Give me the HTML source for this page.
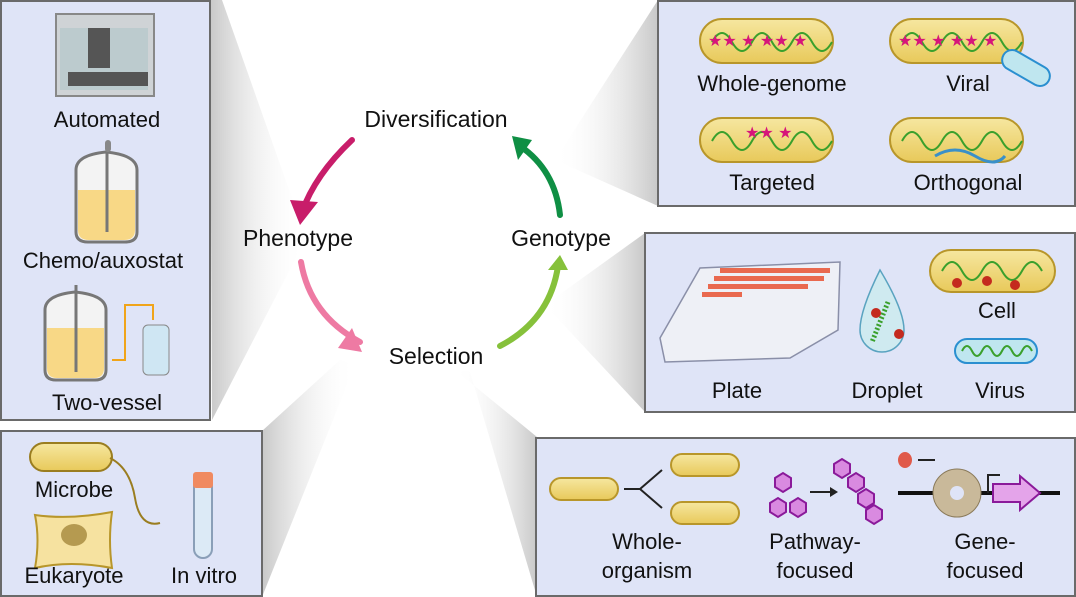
<!DOCTYPE html>
<html><head><meta charset="utf-8"><style>
body{margin:0;background:#fff}
svg{display:block}
text{font-family:"Liberation Sans",sans-serif;fill:#111}
</style></head><body>
<svg width="1076" height="597" viewBox="0 0 1076 597" xmlns="http://www.w3.org/2000/svg">
<defs>
<linearGradient id="gl" x1="0" x2="1"><stop offset="0" stop-color="#c8c8c8"/><stop offset="1" stop-color="#fff" stop-opacity="0"/></linearGradient>
<linearGradient id="gr" x1="1" x2="0"><stop offset="0" stop-color="#c8c8c8"/><stop offset="1" stop-color="#fff" stop-opacity="0"/></linearGradient>
<linearGradient id="cell" x1="0" y1="0" x2="0" y2="1"><stop offset="0" stop-color="#f6e7a0"/><stop offset="1" stop-color="#e8c95a"/></linearGradient>
</defs>
<polygon points="210,0 222,0 305,235 300,250 212,420" fill="url(#gl)"/>
<polygon points="658,0 658,206 555,160" fill="url(#gr)"/>
<polygon points="645,233 645,412 545,305" fill="url(#gr)"/>
<polygon points="262,431 262,597 355,365 340,360" fill="url(#gl)"/>
<polygon points="455,370 537,437 537,597 470,372" fill="url(#gr)"/>

<g fill="#dfe4f7" stroke="#6a6a6a" stroke-width="2">
<rect x="1" y="1" width="209" height="419"/>
<rect x="658" y="1" width="417" height="205"/>
<rect x="645" y="233" width="430" height="179"/>
<rect x="1" y="431" width="261" height="165"/>
<rect x="536" y="438" width="539" height="158"/>
</g>

<g fill="none" stroke-width="6" stroke-linecap="round">
<path d="M352,140 Q315,175 302,212" stroke="#c81d6a"/>
<path d="M301,262 Q310,315 360,342" stroke="#ee7aa3"/>
<path d="M500,346 Q550,320 558,266" stroke="#86c13b"/>
<path d="M560,215 Q555,170 520,146" stroke="#0f8f44"/>
</g>
<polygon points="290,200 318,202 300,225" fill="#c81d6a"/>
<polygon points="352,328 362,352 338,348" fill="#ee7aa3"/>
<polygon points="548,270 568,270 560,255" fill="#86c13b"/>
<polygon points="512,136 532,140 518,160" fill="#0f8f44"/>

<g font-size="23">
<text x="436" y="127" text-anchor="middle">Diversification</text>
<text x="298" y="246" text-anchor="middle">Phenotype</text>
<text x="561" y="246" text-anchor="middle">Genotype</text>
<text x="436" y="364" text-anchor="middle">Selection</text>
</g>

<g>
<rect x="56" y="14" width="98" height="82" fill="#cfd3d6" stroke="#888" stroke-width="2"/>
<rect x="60" y="28" width="88" height="62" fill="#bccbce"/>
<rect x="88" y="28" width="22" height="40" fill="#555"/>
<rect x="68" y="72" width="80" height="14" fill="#555"/>
<path d="M76,170 Q76,155 106,152 Q137,155 137,170 V232 Q137,242 125,242 H88 Q76,242 76,232z" fill="#f3f3f3" stroke="#777" stroke-width="3"/>
<path d="M78,190 H135 V230 Q135,240 124,240 H89 Q78,240 78,230z" fill="#f8d886"/>
<line x1="107" y1="145" x2="107" y2="232" stroke="#777" stroke-width="3"/>
<rect x="105" y="140" width="6" height="12" rx="3" fill="#888"/>
<path d="M45,310 Q45,295 75,292 Q106,295 106,310 V370 Q106,380 95,380 H56 Q45,380 45,370z" fill="#f3f3f3" stroke="#777" stroke-width="3"/>
<path d="M47,328 H104 V368 Q104,378 94,378 H57 Q47,378 47,368z" fill="#f8d886"/>
<line x1="76" y1="285" x2="76" y2="372" stroke="#777" stroke-width="3"/>
<path d="M112,360 H125 V305 H153 V320" fill="none" stroke="#f0a41a" stroke-width="2"/>
<rect x="143" y="325" width="26" height="50" rx="5" fill="#cfe6f3" stroke="#888"/>
</g>
<g font-size="22">
<text x="107" y="127" text-anchor="middle">Automated</text>
<text x="103" y="268" text-anchor="middle">Chemo/auxostat</text>
<text x="107" y="410" text-anchor="middle">Two-vessel</text>
</g>

<g fill="url(#cell)" stroke="#b8962a" stroke-width="2">
<rect x="700" y="19" width="133" height="44" rx="22"/>
<rect x="890" y="19" width="133" height="44" rx="22"/>
<rect x="700" y="118" width="133" height="44" rx="22"/>
<rect x="890" y="118" width="133" height="44" rx="22"/>
<rect x="930" y="250" width="125" height="42" rx="21"/>
</g>
<g fill="none" stroke="#3aa02c" stroke-width="2">
<path d="M712,42 q10,-18 20,0 t20,0 t20,0 t20,0 t20,0 t20,0"/>
<path d="M902,42 q10,-18 20,0 t20,0 t20,0 t20,0 t20,0 t20,0"/>
<path d="M712,141 q10,-18 20,0 t20,0 t20,0 t20,0 t20,0 t20,0"/>
<path d="M902,141 q10,-18 20,0 t20,0 t20,0 t20,0 t20,0 t20,0"/>
<path d="M942,271 q10,-18 20,0 t20,0 t20,0 t20,0 t20,0"/>
</g>
<g font-size="16">
<text x="708" y="46" style="fill:#d6157a">★★ ★ ★★ ★</text>
<text x="898" y="46" style="fill:#d6157a">★★ ★ ★★ ★</text>
<text x="745" y="138" style="fill:#d6157a">★★ ★</text>
</g>
<rect x="1000" y="58" width="52" height="20" rx="10" transform="rotate(30 1026 68)" fill="#bfe6ef" stroke="#2a8fd0" stroke-width="2"/>
<path d="M935,156 q20,-12 40,0 t30,0" fill="none" stroke="#3a90c8" stroke-width="3"/>
<g font-size="22">
<text x="772" y="91" text-anchor="middle">Whole-genome</text>
<text x="968" y="91" text-anchor="middle">Viral</text>
<text x="772" y="190" text-anchor="middle">Targeted</text>
<text x="968" y="190" text-anchor="middle">Orthogonal</text>
</g>

<polygon points="660,338 700,268 840,262 838,330 790,358 665,362" fill="#eef0f6" stroke="#8a8fa8" stroke-width="1.5"/>
<g fill="#e9694f">
<rect x="720" y="268" width="110" height="5"/><rect x="714" y="276" width="110" height="5"/><rect x="708" y="284" width="100" height="5"/><rect x="702" y="292" width="40" height="5"/>
</g>
<path d="M880,270 Q860,310 860,330 a22,22 0 0 0 44,0 Q904,310 880,270z" fill="#cfeaf0" stroke="#5aa3c0" stroke-width="1.5"/>
<path d="M888,302 l-16,40" stroke="#3aa02c" stroke-width="5" stroke-dasharray="2 2"/>
<circle cx="876" cy="313" r="5" fill="#c42a1e"/><circle cx="899" cy="334" r="5" fill="#c42a1e"/>
<g fill="#c42a1e"><circle cx="957" cy="283" r="5"/><circle cx="987" cy="281" r="5"/><circle cx="1015" cy="285" r="5"/></g>
<rect x="955" y="339" width="82" height="24" rx="12" fill="#bfe6ef" stroke="#2a8fd0" stroke-width="2"/>
<path d="M962,351 q5,-10 10,0 t10,0 t10,0 t10,0 t10,0 t10,0 t10,0" fill="none" stroke="#3aa02c" stroke-width="2"/>
<g font-size="22">
<text x="737" y="398" text-anchor="middle">Plate</text>
<text x="887" y="398" text-anchor="middle">Droplet</text>
<text x="1000" y="398" text-anchor="middle">Virus</text>
<text x="997" y="318" text-anchor="middle">Cell</text>
</g>

<rect x="30" y="443" width="82" height="28" rx="14" fill="url(#cell)" stroke="#9a7d20" stroke-width="2"/>
<path d="M110,458 q20,10 25,40 t25,25" fill="none" stroke="#9a7d20" stroke-width="2"/>
<path d="M35,515 Q70,520 112,512 Q108,540 112,568 Q70,560 35,568 Q40,540 35,515z" fill="#f6e2a0" stroke="#b8962a" stroke-width="2"/>
<ellipse cx="74" cy="535" rx="13" ry="11" fill="#b59a50"/>
<rect x="194" y="478" width="18" height="80" rx="9" fill="#dceaf6" stroke="#8a9fb8" stroke-width="2"/>
<rect x="193" y="472" width="20" height="16" rx="3" fill="#f08a60"/>
<g font-size="22">
<text x="74" y="497" text-anchor="middle">Microbe</text>
<text x="74" y="583" text-anchor="middle">Eukaryote</text>
<text x="204" y="583" text-anchor="middle">In vitro</text>
</g>

<g fill="url(#cell)" stroke="#b8962a" stroke-width="2">
<rect x="550" y="478" width="68" height="22" rx="11"/>
<rect x="671" y="454" width="68" height="22" rx="11"/>
<rect x="671" y="502" width="68" height="22" rx="11"/>
</g>
<path d="M624,489 H640 L662,470 M640,489 L662,508" fill="none" stroke="#222" stroke-width="2"/>
<g fill="#d98ae0" stroke="#8a1a9a" stroke-width="2">
<polygon points="775,478 783,473 791,478 791,487 783,492 775,487"/>
<polygon points="770,503 778,498 786,503 786,512 778,517 770,512"/>
<polygon points="790,503 798,498 806,503 806,512 798,517 790,512"/>
<polygon points="834,464 842,459 850,464 850,473 842,478 834,473"/>
<polygon points="848,478 856,473 864,478 864,487 856,492 848,487"/>
<polygon points="858,494 866,489 874,494 874,503 866,508 858,503"/>
<polygon points="866,510 874,505 882,510 882,519 874,524 866,519"/>
</g>
<path d="M810,492 H830" stroke="#222" stroke-width="2"/><polygon points="830,487 838,492 830,497" fill="#222"/>
<line x1="898" y1="493" x2="1060" y2="493" stroke="#111" stroke-width="4"/>
<circle cx="957" cy="493" r="24" fill="#c9b99a" stroke="#8a7a5a"/>
<circle cx="957" cy="493" r="7" fill="#dfe4f7"/>
<ellipse cx="905" cy="460" rx="7" ry="8" fill="#e05a4a"/>
<path d="M918,460 H935" stroke="#222" stroke-width="2"/>
<path d="M988,493 V475 H1000" fill="none" stroke="#222" stroke-width="2"/>
<polygon points="993,484 1020,484 1020,476 1040,493 1020,510 1020,502 993,502" fill="#e4a4ea" stroke="#8a1a9a" stroke-width="2"/>
<g font-size="22" text-anchor="middle">
<text x="647" y="549">Whole-</text><text x="647" y="578">organism</text>
<text x="815" y="549">Pathway-</text><text x="815" y="578">focused</text>
<text x="985" y="549">Gene-</text><text x="985" y="578">focused</text>
</g>
</svg>
</body></html>
